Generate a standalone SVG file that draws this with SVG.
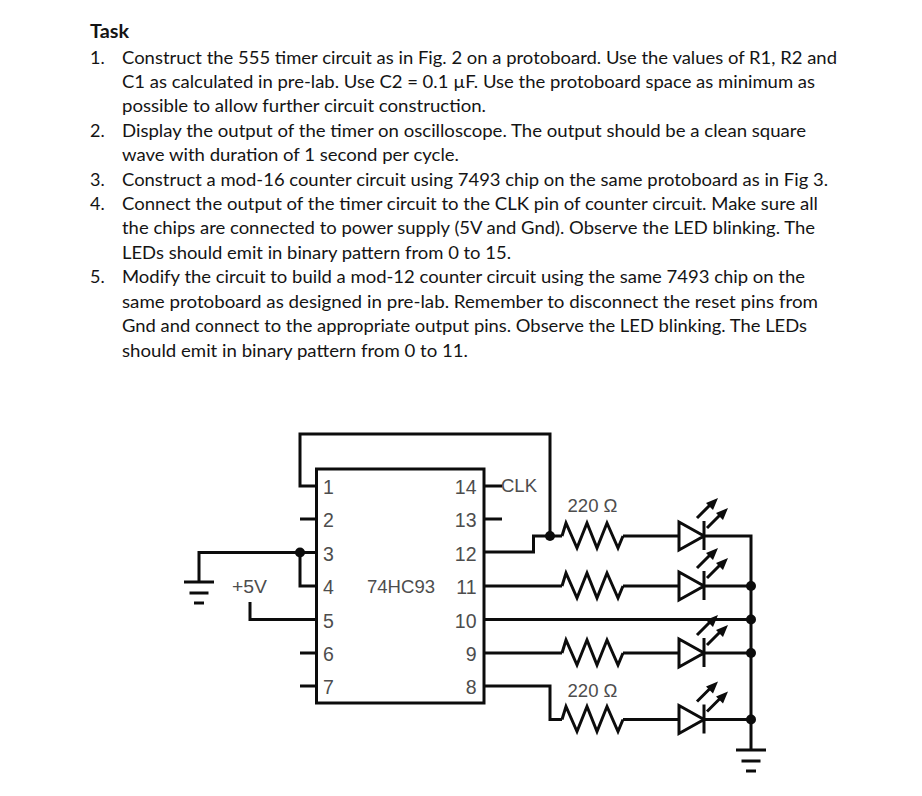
<svg xmlns="http://www.w3.org/2000/svg" width="922" height="796" viewBox="0 0 922 796">
<style>
.t{font-family:"Lato","Open Sans","Liberation Sans",sans-serif;font-size:18px;fill:#141414}
.b{font-weight:700}
.l{font-family:"Liberation Sans",Arial,sans-serif;font-size:19.500px;fill:#4d4d4d}
.s{font-size:18px}
.w{fill:none;stroke:#0c0c0c;stroke-width:3;stroke-linejoin:miter}
.d{fill:#0c0c0c}
</style>
<defs>
<g id="res"><polyline class="w" points="0,0 4,-13 15,12 25,-13 35,12 45,-13 56,12 61,0"/></g>
<g id="led">
<path class="w" d="M0,-14 L25,0 L0,14 Z M25,-15 V14"/>
<path class="w" d="M18,-18 L33,-33 M28,-8 L43,-23"/>
<path class="d" d="M39,-38 L27,-33 L34,-26 Z M49,-28 L37,-23 L44,-16 Z"/>
</g>
<g id="gnd"><path class="w" d="M-15,0 H15 M-9.500,11 H9.500 M-5,21 H5"/></g>
</defs>
<g id="task-text">
<text class="t b" x="90" y="38" textLength="39" lengthAdjust="spacingAndGlyphs">Task</text>
<text class="t" x="90" y="64">1.</text>
<text class="t" x="122" y="64" textLength="715" lengthAdjust="spacingAndGlyphs">Construct the 555 timer circuit as in Fig. 2 on a protoboard. Use the values of R1, R2 and</text>
<text class="t" x="122" y="88" textLength="693" lengthAdjust="spacingAndGlyphs">C1 as calculated in pre-lab. Use C2 = 0.1 µF. Use the protoboard space as minimum as</text>
<text class="t" x="122" y="112" textLength="364" lengthAdjust="spacingAndGlyphs">possible to allow further circuit construction.</text>
<text class="t" x="90" y="137">2.</text>
<text class="t" x="122" y="137" textLength="684" lengthAdjust="spacingAndGlyphs">Display the output of the timer on oscilloscope. The output should be a clean square</text>
<text class="t" x="122" y="161" textLength="337" lengthAdjust="spacingAndGlyphs">wave with duration of 1 second per cycle.</text>
<text class="t" x="90" y="186">3.</text>
<text class="t" x="122" y="186" textLength="706" lengthAdjust="spacingAndGlyphs">Construct a mod-16 counter circuit using 7493 chip on the same protoboard as in Fig 3.</text>
<text class="t" x="90" y="210">4.</text>
<text class="t" x="122" y="210" textLength="696" lengthAdjust="spacingAndGlyphs">Connect the output of the timer circuit to the CLK pin of counter circuit. Make sure all</text>
<text class="t" x="122" y="234" textLength="693" lengthAdjust="spacingAndGlyphs">the chips are connected to power supply (5V and Gnd). Observe the LED blinking. The</text>
<text class="t" x="122" y="259" textLength="389" lengthAdjust="spacingAndGlyphs">LEDs should emit in binary pattern from 0 to 15.</text>
<text class="t" x="90" y="283">5.</text>
<text class="t" x="122" y="283" textLength="683" lengthAdjust="spacingAndGlyphs">Modify the circuit to build a mod-12 counter circuit using the same 7493 chip on the</text>
<text class="t" x="122" y="308" textLength="696" lengthAdjust="spacingAndGlyphs">same protoboard as designed in pre-lab. Remember to disconnect the reset pins from</text>
<text class="t" x="122" y="332" textLength="685" lengthAdjust="spacingAndGlyphs">Gnd and connect to the appropriate output pins. Observe the LED blinking. The LEDs</text>
<text class="t" x="122" y="357" textLength="346" lengthAdjust="spacingAndGlyphs">should emit in binary pattern from 0 to 11.</text>
</g>
<g id="chip-74HC93">
<rect class="w" x="316.500" y="469" width="167.500" height="234"/>
<g class="l">
<text x="323" y="494">1</text><text x="323" y="527">2</text><text x="323" y="561">3</text><text x="323" y="594">4</text><text x="323" y="628">5</text><text x="323" y="661">6</text><text x="323" y="694">7</text>
<text x="476.500" y="494" text-anchor="end">14</text><text x="476.500" y="527" text-anchor="end">13</text><text x="476.500" y="561" text-anchor="end">12</text><text x="476.500" y="594" text-anchor="end">11</text><text x="476.500" y="628" text-anchor="end">10</text><text x="476.500" y="661" text-anchor="end">9</text><text x="476.500" y="694" text-anchor="end">8</text>
</g>
<text class="l s" x="367" y="593" textLength="68" lengthAdjust="spacingAndGlyphs">74HC93</text>
</g>
<g id="labels">
<text class="l s" x="232" y="593" textLength="35" lengthAdjust="spacingAndGlyphs">+5V</text>
<text class="l s" x="501" y="492" textLength="36" lengthAdjust="spacingAndGlyphs">CLK</text>
<text class="l s" x="567.500" y="512" textLength="50" lengthAdjust="spacingAndGlyphs">220 Ω</text>
<text class="l s" x="567.500" y="697" textLength="50" lengthAdjust="spacingAndGlyphs">220 Ω</text>
</g>
<g id="connectors">
<path class="w" d="M316,486 H300 V434 H550 V536"/>
<path class="w" d="M316,519 H300 M316,653 H300 M316,686 H300"/>
<path class="w" d="M316,552.500 H199 V582 M300,552.500 V586 H316"/>
<path class="w" d="M316,619.500 H250 V602"/>
<path class="w" d="M484,486 H502 M484,519 H502"/>
<path class="w" d="M484,552 H533.500 V536 H562"/>
<path class="w" d="M484,586 H562 M484,619.500 H751 M484,653 H562"/>
<path class="w" d="M484,686 H550 V719.500 H562"/>
<path class="w" d="M623,536 H679 M704,536 H751 V750"/>
<path class="w" d="M623,586 H679 M704,586 H751 M623,653 H679 M704,653 H751 M623,719.500 H679 M704,719.500 H751"/>
<circle class="d" cx="300" cy="552.500" r="5"/>
<circle class="d" cx="550" cy="536" r="5"/>
<circle class="d" cx="751" cy="586" r="5"/>
<circle class="d" cx="751" cy="619.500" r="5"/>
<circle class="d" cx="751" cy="653" r="5"/>
<circle class="d" cx="751" cy="719.500" r="5"/>
</g>
<g id="gnd-left"><use href="#gnd" x="199" y="582"/></g>
<g id="gnd-right"><use href="#gnd" x="751" y="750"/></g>
<g id="r1"><use href="#res" x="562" y="536"/></g>
<g id="r2"><use href="#res" x="562" y="586"/></g>
<g id="r3"><use href="#res" x="562" y="653"/></g>
<g id="r4"><use href="#res" x="562" y="719.500"/></g>
<g id="led1"><use href="#led" x="679" y="536"/></g>
<g id="led2"><use href="#led" x="679" y="586"/></g>
<g id="led3"><use href="#led" x="679" y="653"/></g>
<g id="led4"><use href="#led" x="679" y="719.500"/></g>
</svg>
